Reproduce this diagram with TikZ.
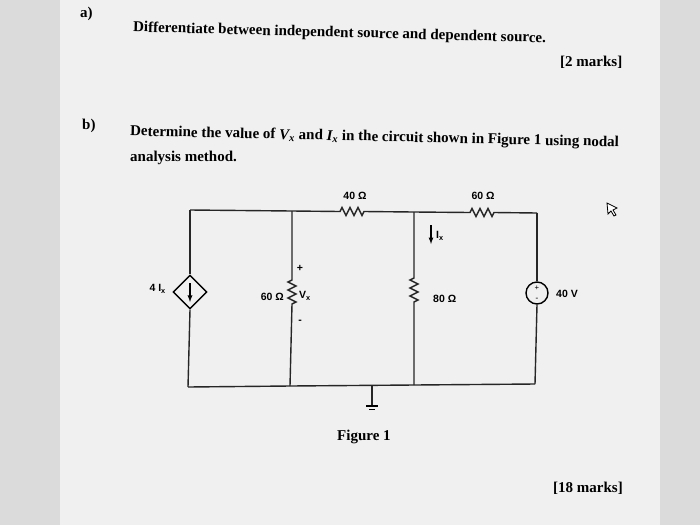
\documentclass[tikz,border=0pt]{standalone}
\usepackage{fontspec}
\usetikzlibrary{shapes.geometric}
\setmainfont{Liberation Serif}
\newfontfamily\arial{Liberation Sans}
\begin{document}
\begin{tikzpicture}[x=1pt,y=-1pt,
  wire/.style={line width=1.4pt,black!85},
  txt/.style={font=\bfseries\fontsize{15}{17}\selectfont,anchor=west,inner sep=0pt},
  lab/.style={font=\arial\bfseries\fontsize{10.5}{12}\selectfont,inner sep=0pt}]
\fill[black!14] (0,0) rectangle (700,525);
\fill[black!6] (60,0) rectangle (660,525);
\useasboundingbox (0,0) rectangle (700,525);
% texts
\node[txt] (qa) at (80,14) {a)};
\node[txt,rotate=-1.5] (ta) at (133,28) {Differentiate between independent source and dependent source.};
\node[txt] (m2) at (560,62) {[2 marks]};
\node[txt] (qb) at (82,126) {b)};
\node[txt,rotate=-1.3] (tb) at (130,132) {Determine the value of \textit{V\textsubscript{x}} and \textit{I\textsubscript{x}} in the circuit shown in Figure 1 using nodal};
\node[txt] (tb2) at (130,158) {analysis method.};
\node[txt] (fig) at (337,437) {Figure 1};
\node[txt] (m18) at (553,488) {[18 marks]};
% coordinates
\coordinate (tl) at (190,210); \coordinate (t2) at (292,211); \coordinate (t3) at (414,212); \coordinate (tr) at (537,213);
\coordinate (bl) at (188,387); \coordinate (b2) at (290,386); \coordinate (b3) at (414,385); \coordinate (br) at (535,384);
% top wire with resistors
\draw[wire] (tl) -- (t2) -- (340,211.5) -- ++(2,-4) -- ++(4,8) -- ++(4,-8) -- ++(4,8) -- ++(4,-8) -- ++(4,8) -- ++(2,-4) -- (t3) -- (470,212.5) -- ++(2,-4) -- ++(4,8) -- ++(4,-8) -- ++(4,8) -- ++(4,-8) -- ++(4,8) -- ++(2,-4) -- (tr);
\draw[wire] (bl) -- (b2) -- (b3) -- (br);
% left branch dependent source
\node[draw,line width=1.4pt,diamond,minimum size=34pt,inner sep=0pt] (ds) at (190,292) {};
\draw[wire] (tl) -- (ds.north);
\draw[wire] (ds.south) -- (bl);
\draw[line width=1.3pt,-latex] (190,283) -- (190,302);
\node[lab,anchor=east] (l4) at (166,289) {4 I\textsubscript{x}};
% 60 ohm
\draw[wire] (t2) -- (292,280) -- ++(-4,2) -- ++(8,4) -- ++(-8,4) -- ++(8,4) -- ++(-8,4) -- ++(8,4) -- ++(-4,2) -- (b2);
\node[lab,anchor=east] (r60) at (284,297) {60 Ω};
\node[lab,anchor=west] (vx) at (299,296) {V\textsubscript{x}};
\node[lab] (pl) at (300,268) {+};
\node[lab] (mi) at (300,322) {-};
% 80 ohm
\draw[wire] (t3) -- (414,278) -- ++(-4,2) -- ++(8,4) -- ++(-8,4) -- ++(8,4) -- ++(-8,4) -- ++(8,4) -- ++(-4,2) -- (b3);
\node[lab,anchor=west] (r80) at (433,299) {80 Ω};
\draw[line width=1.2pt,-latex] (431,225) -- (431,244);
\node[lab,anchor=west] (ix) at (436,236) {I\textsubscript{x}};
\node[lab] (r40) at (355,196) {40 Ω};
\node[lab] (r60b) at (483,196) {60 Ω};
% voltage source
\node[draw,circle,line width=1.4pt,minimum size=22pt,inner sep=0pt] (vs) at (537,293) {};
\draw[wire] (tr) -- (vs.north); \draw[wire] (vs.south) -- (br);
\node[font=\bfseries\fontsize{8}{8}\selectfont,inner sep=0pt] (vp) at (537,288) {+};
\node[font=\bfseries\fontsize{8}{8}\selectfont,inner sep=0pt] (vm) at (537,299) {-};
\node[lab,anchor=west] (v40) at (556,294) {40 V};
% ground
\coordinate (g) at (372,385);
\draw[wire] (g) -- (372,406);
\draw[line width=1.3pt] (366,406) -- (378,406);
\draw[line width=1pt] (369,409) -- (375,409);
% cursor
\draw[line width=0.8pt,fill=white] (607,203) -- (617,208) -- (613,210) -- (616,215) -- (614,216) -- (611,211) -- (608,214) -- cycle;
\end{tikzpicture}
\end{document}
